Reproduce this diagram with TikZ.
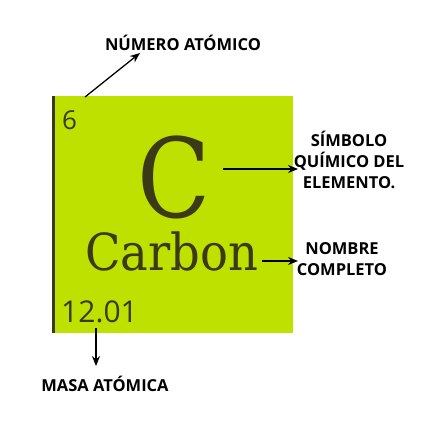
\documentclass[tikz,border=0pt]{standalone}
\usepackage{fontspec}
\usetikzlibrary{arrows.meta}
\newfontfamily\lblfont{Open Sans}
\newfontfamily\cardfont{DejaVu Serif}
\definecolor{cardfill}{RGB}{190,225,0}
\definecolor{cardink}{RGB}{58,58,22}

\begin{document}
\begin{tikzpicture}[x=1pt,y=-1pt,
    lbl/.style={font=\lblfont\bfseries\fontsize{16.5}{21}\selectfont, align=center, inner sep=0pt},
    numtxt/.style={text=cardink, inner sep=0pt, anchor=base west, text depth=0pt},
    arr/.style={-{Stealth[length=10pt,width=8pt]}, line width=1.3pt}]
    \useasboundingbox (0,0) rectangle (425,425);
    % the card
    \fill[cardfill] (52,96) rectangle (293,333);
    \draw[cardink, line width=3pt] (53,96) -- (53,333);
    \node[numtxt, font=\lblfont\fontsize{26}{26}\selectfont] (num) at (62,129) {6};
    \node[numtxt, font=\cardfont\fontsize{110}{110}\selectfont, xscale=0.87] (sym) at (137,217) {C};
    \node[numtxt, font=\cardfont\fontsize{51}{51}\selectfont, xscale=0.91] (name) at (85,270) {Carbon};
    \node[numtxt, font=\lblfont\fontsize{30}{30}\selectfont] (mass) at (61,322) {12.01};
    % labels
    \node[lbl] (numlbl) at (183,43) {NÚMERO ATÓMICO};
    \node[lbl] (symlbl) at (349,160) {SÍMBOLO\\QUÍMICO DEL\\ELEMENTO.};
    \node[lbl] (namelbl) at (342,259) {NOMBRE\\COMPLETO};
    \node[lbl] (masslbl) at (105,384) {MASA ATÓMICA};
    % arrows
    \coordinate (numfrom) at (85,97);
    \coordinate (numto) at (140,53);
    \coordinate (symfrom) at (223,169);
    \coordinate (symto) at (298,169);
    \coordinate (namefrom) at (262,261);
    \coordinate (nameto) at (298,261);
    \coordinate (massfrom) at (96,328);
    \coordinate (massto) at (96,366);
    \draw[arr] (numfrom) -- (numto);
    \draw[arr] (symfrom) -- (symto);
    \draw[arr] (namefrom) -- (nameto);
    \draw[arr] (massfrom) -- (massto);
\end{tikzpicture}
\end{document}
